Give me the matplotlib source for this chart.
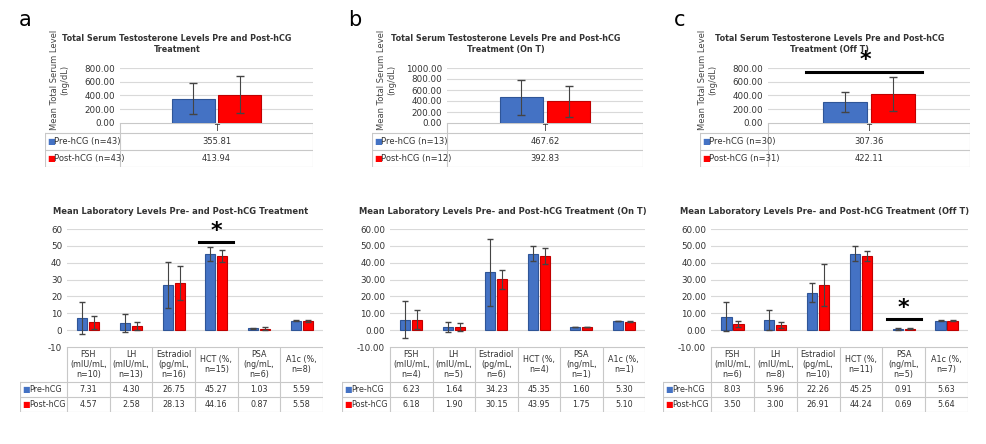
import matplotlib
matplotlib.use("Agg")
import matplotlib.pyplot as plt
import numpy as np

W, H = 986, 444
BLUE = "#4472C4"; RED = "#FF0000"
plt.rcParams['font.family'] = ['DejaVu Sans']

top_titles = ["Total Serum Testosterone Levels Pre and Post-hCG\nTreatment",
              "Total Serum Testosterone Levels Pre and Post-hCG\nTreatment (On T)",
              "Total Serum Testosterone Levels Pre and Post-hCG\nTreatment (Off T)"]
top_pre = [355.81, 467.62, 307.36]
top_post = [413.94, 392.83, 422.11]
top_pre_err = [220, 320, 150]
top_post_err = [270, 280, 250]
top_pre_lab = ["Pre-hCG (n=43)", "Pre-hCG (n=13)", "Pre-hCG (n=30)"]
top_post_lab = ["Post-hCG (n=43)", "Post-hCG (n=12)", "Post-hCG (n=31)"]
top_ymax = [800, 1000, 800]

bot_titles = ["Mean Laboratory Levels Pre- and Post-hCG Treatment",
              "Mean Laboratory Levels Pre- and Post-hCG Treatment (On T)",
              "Mean Laboratory Levels Pre- and Post-hCG Treatment (Off T)"]
cats_a = ["FSH\n(mIU/mL,\nn=10)", "LH\n(mIU/mL,\nn=13)", "Estradiol\n(pg/mL,\nn=16)", "HCT (%,\nn=15)", "PSA\n(ng/mL,\nn=6)", "A1c (%,\nn=8)"]
cats_b = ["FSH\n(mIU/mL,\nn=4)", "LH\n(mIU/mL,\nn=5)", "Estradiol\n(pg/mL,\nn=6)", "HCT (%,\nn=4)", "PSA\n(ng/mL,\nn=1)", "A1c (%,\nn=1)"]
cats_c = ["FSH\n(mIU/mL,\nn=6)", "LH\n(mIU/mL,\nn=8)", "Estradiol\n(pg/mL,\nn=10)", "HCT (%,\nn=11)", "PSA\n(ng/mL,\nn=5)", "A1c (%,\nn=7)"]
pre_a = [7.31, 4.30, 26.75, 45.27, 1.03, 5.59]
post_a = [4.57, 2.58, 28.13, 44.16, 0.87, 5.58]
pre_b = [6.23, 1.64, 34.23, 45.35, 1.60, 5.30]
post_b = [6.18, 1.90, 30.15, 43.95, 1.75, 5.10]
pre_c = [8.03, 5.96, 22.26, 45.25, 0.91, 5.63]
post_c = [3.50, 3.00, 26.91, 44.24, 0.69, 5.64]
pre_err_a = [9.5, 5.5, 13.5, 4.0, 0.5, 0.3]
post_err_a = [3.8, 2.2, 10.0, 3.5, 0.8, 0.6]
pre_err_b = [11.0, 3.0, 20.0, 4.5, 0.0, 0.0]
post_err_b = [5.5, 2.5, 5.5, 5.0, 0.0, 0.2]
pre_err_c = [8.7, 6.0, 5.5, 4.5, 0.6, 0.2]
post_err_c = [1.8, 1.7, 12.5, 3.0, 0.3, 0.2]

fig = plt.figure(figsize=(W/100, H/100), dpi=100)

def ax_px(x0, y0, x1, y1):
    return fig.add_axes([x0/W, 1-y1/H, (x1-x0)/W, (y1-y0)/H])

def style(ax):
    for s in ax.spines.values():
        s.set_visible(False)
    ax.tick_params(length=0, labelsize=6.3, colors="#333333")
    ax.yaxis.grid(True, color="#d9d9d9", lw=0.8)
    ax.set_axisbelow(True)
    ax.set_xticks([])

def table(ax, n, headers, pre_txt, post_txt, legw, hdr_h, row_h, pre_lab, post_lab, upx, fs=6):
    tot = hdr_h + 2*row_h
    ax.set_xlim(-0.5-legw, n-0.5); ax.set_ylim(tot, 0); ax.axis("off")
    lc = "#c8c8c8"
    ax.plot([-0.5, n-0.5], [0, 0], color=lc, lw=0.8)
    for i in range(n+1):
        ax.plot([i-0.5, i-0.5], [0, tot], color=lc, lw=0.8)
    ax.plot([-0.5-legw, -0.5-legw], [hdr_h, tot], color=lc, lw=0.8)
    for yy in [hdr_h, hdr_h+row_h, tot]:
        ax.plot([-0.5-legw, n-0.5], [yy, yy], color=lc, lw=0.8)
    for i in range(n):
        ax.text(i, hdr_h/2, headers[i], ha="center", va="center", fontsize=fs, color="#333333", linespacing=1.15)
        ax.text(i, hdr_h+row_h/2, pre_txt[i], ha="center", va="center", fontsize=fs, color="#333333")
        ax.text(i, hdr_h+1.5*row_h, post_txt[i], ha="center", va="center", fontsize=fs, color="#333333")
    for k, (lab, c) in enumerate([(pre_lab, BLUE), (post_lab, RED)]):
        yy = hdr_h + (k+0.5)*row_h
        ax.text(-0.5-legw+2*upx, yy, "\u25A0", color=c, ha="left", va="center", fontsize=fs)
        ax.text(-0.5-legw+9*upx, yy, lab, ha="left", va="center", fontsize=fs, color="#333333")

top_geo = [(120, 313, 45), (447, 643, 372), (768, 970, 700)]
for p in range(3):
    x0, x1, lx = top_geo[p]
    ax = ax_px(x0, 68, x1, 123)
    style(ax)
    ymax = top_ymax[p]
    ax.set_ylim(0, ymax); ax.set_yticks(np.arange(0, ymax+1, 200))
    ax.set_yticklabels([f"{v:.2f}" for v in np.arange(0, ymax+1, 200)])
    ax.set_xlim(-0.5, 0.5)
    ax.bar([-0.12], [top_pre[p]], 0.22, color=BLUE, edgecolor="#2f5597", lw=0.8,
           yerr=[top_pre_err[p]], error_kw=dict(ecolor="#444444", lw=0.8, capsize=3))
    ax.bar([0.12], [top_post[p]], 0.22, color=RED, edgecolor="#c00000", lw=0.8,
           yerr=[top_post_err[p]], error_kw=dict(ecolor="#444444", lw=0.8, capsize=3))
    fig.text((x0+x1)/2/W - 0.04, 1-44/H, top_titles[p], ha="center", va="center", fontsize=5.8,
             fontweight="bold", color="#333333")
    fig.text((x0-60)/W, 1-80/H, "Mean Total Serum Level\n(ng/dL)", rotation=90, ha="center", va="center",
             fontsize=6, color="#444444")
    legw = (x0-lx)/(x1-x0)
    tax = ax_px(lx, 123, x1, 167)
    table(tax, 1, ["T"], [f"{top_pre[p]:.2f}"], [f"{top_post[p]:.2f}"], legw, 10, 17,
          top_pre_lab[p], top_post_lab[p], 1.0/(x1-x0))
    if p == 2:
        ax.plot([-0.31, 0.26], [ymax*0.93, ymax*0.93], color="black", lw=2.2, clip_on=False)
        ax.text(-0.02, ymax*0.97, "*", ha="center", va="bottom", fontsize=16, fontweight="bold")

for p, ch in enumerate("abc"):
    fig.text([25, 355, 680][p]/W, 1-20/H, ch, fontsize=15, ha="center", va="center")

bot_geo = [(67, 323, 20), (390, 645, 342), (711, 968, 663)]
cats = [cats_a, cats_b, cats_c]
pres = [pre_a, pre_b, pre_c]; posts = [post_a, post_b, post_c]
pe = [pre_err_a, pre_err_b, pre_err_c]; qe = [post_err_a, post_err_b, post_err_c]
for p in range(3):
    x0, x1, lx = bot_geo[p]
    ax = ax_px(x0, 229, x1, 347)
    style(ax)
    ax.set_ylim(-10, 60); ax.set_yticks(np.arange(-10, 61, 10))
    if p == 0:
        ax.set_yticklabels([str(v) for v in range(-10, 61, 10)])
    else:
        ax.set_yticklabels([f"{v:.2f}" for v in range(-10, 61, 10)])
    n = len(cats[p]); x = np.arange(n)
    ax.set_xlim(-0.5, n-0.5)
    ax.bar(x-0.14, pres[p], 0.24, color=BLUE, edgecolor="#2f5597", lw=0.8,
           yerr=pe[p], error_kw=dict(ecolor="#444444", lw=0.8, capsize=2.5))
    ax.bar(x+0.14, posts[p], 0.24, color=RED, edgecolor="#c00000", lw=0.8,
           yerr=qe[p], error_kw=dict(ecolor="#444444", lw=0.8, capsize=2.5))
    fig.text((x0+x1)/2/W - 0.015, 1-211/H, bot_titles[p], ha="center", va="center", fontsize=6,
             fontweight="bold", color="#333333")
    if p == 0:
        ax.plot([2.6, 3.4], [52.5, 52.5], color="black", lw=2.2)
        ax.text(3.0, 53, "*", ha="center", va="bottom", fontsize=16, fontweight="bold")
    if p == 2:
        ax.plot([3.6, 4.4], [6.5, 6.5], color="black", lw=2.2)
        ax.text(4.0, 7, "*", ha="center", va="bottom", fontsize=16, fontweight="bold")
    upx = n/(x1-x0)
    legw = (x0-lx)*upx
    tax = ax_px(lx, 347, x1, 412)
    table(tax, n, cats[p], [f"{v:.2f}" for v in pres[p]], [f"{v:.2f}" for v in posts[p]],
          legw, 35, 15, "Pre-hCG", "Post-hCG", upx, fs=5.8)

fig.savefig("out.png", dpi=100)
